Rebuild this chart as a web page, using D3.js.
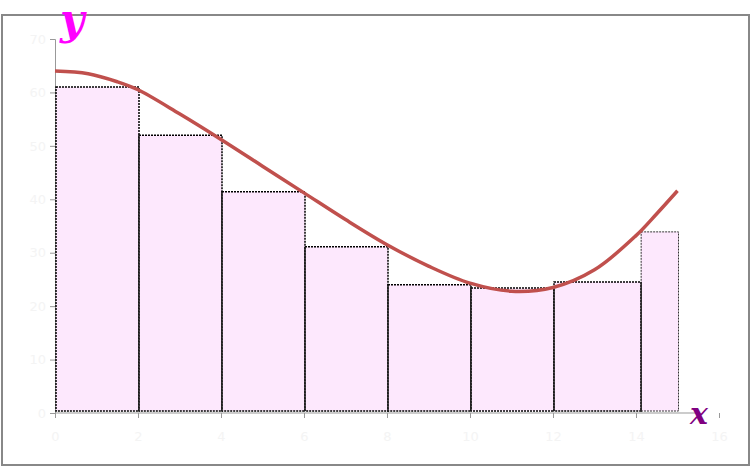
<!DOCTYPE html>
<html><head><meta charset="utf-8">
<script src="https://cdn.jsdelivr.net/npm/d3@7"></script>
<style>body{margin:0;background:#fff}</style>
</head><body>
<svg id="chart" width="752" height="467"></svg>
<script>
// histogram bins: start, end, height
var binStart = [0, 2, 4, 6, 8, 10, 12, 14.1];
var binEnd = [2, 4, 6, 8, 10, 12, 14.1, 15];
var binHeight = [61, 52, 41.4, 31.1, 24, 23.4, 24.5, 33.9];
// fitted curve
var curveX = [0, 0.8, 1.5, 2, 3, 4, 5, 6, 7, 8, 9, 10, 11, 12, 13, 14, 14.5, 15];
var curveY = [64, 63.5, 62, 60.5, 56, 51.2, 46.2, 41.2, 36.2, 31.5, 27.5, 24.3, 22.8, 23.5, 26.8, 33.2, 37.3, 41.6];
var xTicks = [0, 2, 4, 6, 8, 10, 12, 14, 16];
var yTicks = [0, 10, 20, 30, 40, 50, 60, 70];

var svg = d3.select("#chart");
var x = d3.scaleLinear().domain([0, 16]).range([55, 719]);
var y = d3.scaleLinear().domain([0, 70]).range([413, 39]);

svg.append("rect").attr("x", 2).attr("y", 15).attr("width", 747).attr("height", 450)
  .attr("fill", "#fff").attr("stroke", "#888").attr("stroke-width", 2);

// axes
var xAxis = svg.append("g").attr("transform", "translate(0,413)")
  .call(d3.axisBottom(x).tickValues(xTicks).tickSize(5).tickPadding(14));
var yAxis = svg.append("g").attr("transform", "translate(55,0)")
  .call(d3.axisLeft(y).tickValues(yTicks).tickSize(5).tickPadding(4));
[xAxis, yAxis].forEach(function(a){
  a.select(".domain").attr("stroke", "#999");
  a.selectAll(".tick line").attr("stroke", "#999");
  a.selectAll("text").attr("fill", "#f4f4f4").attr("font-family", "DejaVu Sans").attr("font-size", 13);
});
xAxis.select(".domain").attr("d", "M55,0H700");

// bars
binStart.forEach(function(s, i){
  svg.append("rect")
    .attr("x", x(s) + 1).attr("y", y(binHeight[i]))
    .attr("width", x(binEnd[i]) - x(s)).attr("height", y(0) - y(binHeight[i]) - 2)
    .attr("fill", "#fde8fd").attr("stroke", "#000")
    .attr("stroke-width", i < 7 ? 1.5 : 0.8).attr("stroke-dasharray", "2,1");
});
binStart.slice(1).forEach(function(s, i){
  svg.append("line").attr("x1", x(s) + 1).attr("x2", x(s) + 1)
    .attr("y1", y(Math.min(binHeight[i], binHeight[i + 1]))).attr("y2", y(0) - 2)
    .attr("stroke", "#222").attr("stroke-width", 1.5);
});

// curve
var line = d3.line().x(function(d){ return x(d[0]); }).y(function(d){ return y(d[1]); })
  .curve(d3.curveCatmullRom);
svg.append("path").datum(curveX.map(function(v, i){ return [v, curveY[i]]; }))
  .attr("d", line).attr("fill", "none").attr("stroke", "#c0504d").attr("stroke-width", 3.5);

// axis letters
svg.append("text").attr("x", 60).attr("y", 34).text("y")
  .attr("font-family", "DejaVu Serif").attr("font-style", "italic").attr("font-weight", "bold")
  .attr("font-size", 42).attr("fill", "#ff00ff");
svg.append("text").attr("x", 690).attr("y", 424).text("x")
  .attr("font-family", "DejaVu Serif").attr("font-style", "italic").attr("font-weight", "bold")
  .attr("font-size", 30).attr("fill", "#800080");
</script>
</body></html>
